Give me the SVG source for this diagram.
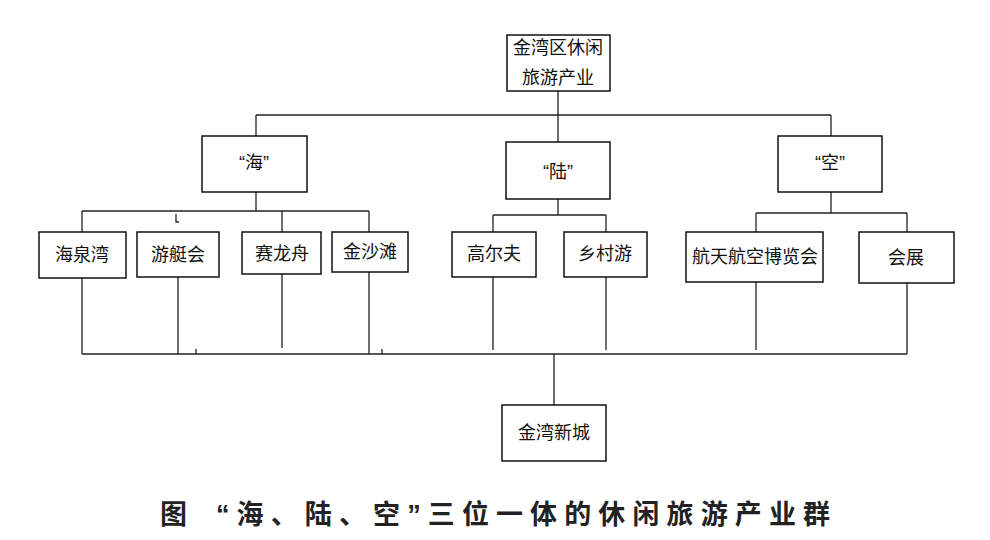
<svg xmlns="http://www.w3.org/2000/svg" width="990" height="540" viewBox="0 0 990 540">
<style>
.box{fill:#fff;stroke:#111;stroke-width:1.5}
.ln{fill:none;stroke:#222;stroke-width:1.3}
.t{font-family:"Liberation Sans","Noto Sans CJK SC",sans-serif;font-size:18px;fill:#111;text-anchor:middle;dominant-baseline:central}
.cap{font-family:"Liberation Sans","Noto Sans CJK SC",sans-serif;font-size:27px;font-weight:600;fill:#222;dominant-baseline:central}
</style>
<rect width="990" height="540" fill="#fff"/>
<g id="connectors" class="ln">
<path d="M558,91V115M256,115H831M256,115V136M558,115V142M831,115V136"/>
<path d="M256,192V211M82,211H369M82,211V232M282,211V232M369,211V232M176,214V222H179"/>
<path d="M558,199V215M493,215H606M493,215V232M606,215V232"/>
<path d="M831,192V213M756,213H907M756,213V232M907,213V232"/>
<path d="M82,278V354M178,277V354M282,274V348M369,272V354M493,277V350M606,277V350M756,282V350M907,283V354"/>
<path d="M82,354H907M196,349V354M382,349V354M554,354V405"/>
</g>
<g id="root"><rect class="box" x="507" y="35" width="103" height="56"/><text class="t" x="558" y="48">金湾区休闲</text><text class="t" x="558" y="78">旅游产业</text></g>
<g id="hai"><rect class="box" x="202" y="136" width="105" height="56"/><text class="t" x="254" y="163">“海”</text></g>
<g id="lu"><rect class="box" x="506" y="142" width="104" height="57"/><text class="t" x="558" y="172">“陆”</text></g>
<g id="kong"><rect class="box" x="778" y="136" width="104" height="56"/><text class="t" x="830" y="163">“空”</text></g>
<g id="haiquanwan"><rect class="box" x="39" y="232" width="87" height="46"/><text class="t" x="82" y="255">海泉湾</text></g>
<g id="youtinghui"><rect class="box" x="137" y="232" width="82" height="45"/><text class="t" x="178" y="255">游艇会</text></g>
<g id="sailongzhou"><rect class="box" x="242" y="232" width="79" height="42"/><text class="t" x="282" y="254">赛龙舟</text></g>
<g id="jinshatan"><rect class="box" x="332" y="232" width="76" height="40"/><text class="t" x="370" y="252">金沙滩</text></g>
<g id="gaoerfu"><rect class="box" x="452" y="232" width="84" height="45"/><text class="t" x="494" y="254">高尔夫</text></g>
<g id="xiangcunyou"><rect class="box" x="564" y="232" width="83" height="45"/><text class="t" x="605" y="254">乡村游</text></g>
<g id="hangtian"><rect class="box" x="686" y="232" width="137" height="50"/><text class="t" x="755" y="257">航天航空博览会</text></g>
<g id="huizhan"><rect class="box" x="859" y="232" width="95" height="51"/><text class="t" x="906" y="258">会展</text></g>
<g id="jinwanxincheng"><rect class="box" x="502" y="405" width="104" height="56"/><text class="t" x="554" y="433">金湾新城</text></g>
<g id="caption">
<text class="cap" x="160" y="515">图</text>
<text class="cap" x="216" y="515" textLength="614" lengthAdjust="spacing">“海、陆、空”三位一体的休闲旅游产业群</text>
</g>
</svg>
